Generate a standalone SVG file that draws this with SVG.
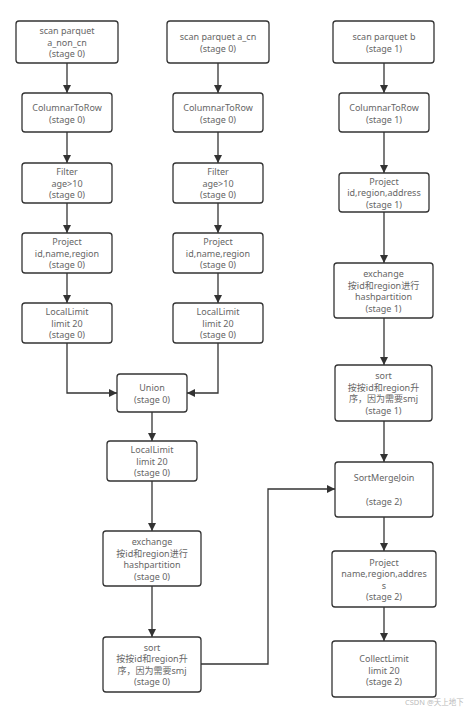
<svg xmlns="http://www.w3.org/2000/svg" width="474" height="710" viewBox="0 0 474 710">
<defs>
<style>
.box{fill:#fff;stroke:#333;stroke-width:1.3}
.t{font-family:"Noto Sans","Noto Sans CJK SC",sans-serif;font-size:9px;fill:#666;text-anchor:middle}
.c{fill:none;stroke:#333;stroke-width:1.3}
.wm{font-family:"Noto Sans","Noto Sans CJK SC",sans-serif;font-size:7.5px;fill:#bbb}
</style>
<marker id="ah" markerUnits="userSpaceOnUse" markerWidth="10" markerHeight="10" refX="8" refY="4" orient="auto">
<path d="M0,0 L8,4 L0,8 Z" fill="#333"/>
</marker>
</defs>
<rect width="474" height="710" fill="#fff"/>
<g id="connectors">
<path class="c" d="M67,63 V93" marker-end="url(#ah)"/>
<path class="c" d="M67,132 V163" marker-end="url(#ah)"/>
<path class="c" d="M67,203 V233" marker-end="url(#ah)"/>
<path class="c" d="M67,273 V303" marker-end="url(#ah)"/>
<path class="c" d="M67,343 V393 H117" marker-end="url(#ah)"/>
<path class="c" d="M218,63 V93" marker-end="url(#ah)"/>
<path class="c" d="M218,132 V163" marker-end="url(#ah)"/>
<path class="c" d="M218,203 V233" marker-end="url(#ah)"/>
<path class="c" d="M218,273 V303" marker-end="url(#ah)"/>
<path class="c" d="M218,343 V393 H187" marker-end="url(#ah)"/>
<path class="c" d="M152,412 V441" marker-end="url(#ah)"/>
<path class="c" d="M152,481 V531" marker-end="url(#ah)"/>
<path class="c" d="M152,586 V637" marker-end="url(#ah)"/>
<path class="c" d="M384,63 V93" marker-end="url(#ah)"/>
<path class="c" d="M384,132 V173" marker-end="url(#ah)"/>
<path class="c" d="M384,212 V263" marker-end="url(#ah)"/>
<path class="c" d="M384,318 V365" marker-end="url(#ah)"/>
<path class="c" d="M384,421 V462" marker-end="url(#ah)"/>
<path class="c" d="M384,517 V551" marker-end="url(#ah)"/>
<path class="c" d="M384,607 V641" marker-end="url(#ah)"/>
<path class="c" d="M201,664 H268 V489 H335" marker-end="url(#ah)"/>
</g>
<g id="scan_a_non_cn"><rect class="box" x="16" y="21" width="102" height="42" rx="3"/>
<text class="t"><tspan x="67" y="34">scan parquet</tspan><tspan x="67" y="45.5">a_non_cn</tspan><tspan x="67" y="57">(stage 0)</tspan></text></g>
<g id="scan_a_cn"><rect class="box" x="167" y="21" width="102" height="42" rx="3"/>
<text class="t"><tspan x="218" y="40">scan parquet a_cn</tspan><tspan x="218" y="52">(stage 0)</tspan></text></g>
<g id="scan_b"><rect class="box" x="333" y="21" width="101" height="42" rx="3"/>
<text class="t"><tspan x="384" y="40">scan parquet b</tspan><tspan x="384" y="52">(stage 1)</tspan></text></g>
<g id="c2r_1"><rect class="box" x="22" y="93" width="90" height="39" rx="3"/>
<text class="t"><tspan x="67" y="111">ColumnarToRow</tspan><tspan x="67" y="122.5">(stage 0)</tspan></text></g>
<g id="c2r_2"><rect class="box" x="173" y="93" width="90" height="39" rx="3"/>
<text class="t"><tspan x="218" y="111">ColumnarToRow</tspan><tspan x="218" y="122.5">(stage 0)</tspan></text></g>
<g id="c2r_3"><rect class="box" x="339" y="93" width="90" height="39" rx="3"/>
<text class="t"><tspan x="384" y="111">ColumnarToRow</tspan><tspan x="384" y="122.5">(stage 1)</tspan></text></g>
<g id="filter_1"><rect class="box" x="22" y="163" width="90" height="40" rx="3"/>
<text class="t"><tspan x="67" y="175">Filter</tspan><tspan x="67" y="186.5">age&gt;10</tspan><tspan x="67" y="198">(stage 0)</tspan></text></g>
<g id="filter_2"><rect class="box" x="173" y="163" width="90" height="40" rx="3"/>
<text class="t"><tspan x="218" y="175">Filter</tspan><tspan x="218" y="186.5">age&gt;10</tspan><tspan x="218" y="198">(stage 0)</tspan></text></g>
<g id="project_1"><rect class="box" x="22" y="233" width="90" height="40" rx="3"/>
<text class="t"><tspan x="67" y="245">Project</tspan><tspan x="67" y="256.5">id,name,region</tspan><tspan x="67" y="268">(stage 0)</tspan></text></g>
<g id="project_2"><rect class="box" x="173" y="233" width="90" height="40" rx="3"/>
<text class="t"><tspan x="218" y="245">Project</tspan><tspan x="218" y="256.5">id,name,region</tspan><tspan x="218" y="268">(stage 0)</tspan></text></g>
<g id="project_3"><rect class="box" x="339" y="173" width="90" height="39" rx="3"/>
<text class="t"><tspan x="384" y="184.5">Project</tspan><tspan x="384" y="196">id,region,address</tspan><tspan x="384" y="207.5">(stage 1)</tspan></text></g>
<g id="locallimit_1"><rect class="box" x="22" y="303" width="90" height="40" rx="3"/>
<text class="t"><tspan x="67" y="315">LocalLimit</tspan><tspan x="67" y="326.5">limit 20</tspan><tspan x="67" y="338">(stage 0)</tspan></text></g>
<g id="locallimit_2"><rect class="box" x="173" y="303" width="90" height="40" rx="3"/>
<text class="t"><tspan x="218" y="315">LocalLimit</tspan><tspan x="218" y="326.5">limit 20</tspan><tspan x="218" y="338">(stage 0)</tspan></text></g>
<g id="union"><rect class="box" x="117" y="374" width="70" height="38" rx="3"/>
<text class="t"><tspan x="152" y="390.5">Union</tspan><tspan x="152" y="402.5">(stage 0)</tspan></text></g>
<g id="locallimit_3"><rect class="box" x="107" y="441" width="90" height="40" rx="3"/>
<text class="t"><tspan x="152" y="453">LocalLimit</tspan><tspan x="152" y="464.5">limit 20</tspan><tspan x="152" y="476">(stage 0)</tspan></text></g>
<g id="exchange_1"><rect class="box" x="103" y="531" width="98" height="55" rx="3"/>
<text class="t"><tspan x="152" y="545">exchange</tspan><tspan x="152" y="556.5">按id和region进行</tspan><tspan x="152" y="568">hashpartition</tspan><tspan x="152" y="579.5">(stage 0)</tspan></text></g>
<g id="sort_1"><rect class="box" x="103" y="637" width="98" height="55" rx="3"/>
<text class="t"><tspan x="152" y="650.5">sort</tspan><tspan x="152" y="662">按按id和region升</tspan><tspan x="152" y="673.5">序，因为需要smj</tspan><tspan x="152" y="685">(stage 0)</tspan></text></g>
<g id="exchange_2"><rect class="box" x="334" y="263" width="99" height="55" rx="3"/>
<text class="t"><tspan x="383.5" y="277">exchange</tspan><tspan x="383.5" y="288.5">按id和region进行</tspan><tspan x="383.5" y="300">hashpartition</tspan><tspan x="383.5" y="311.5">(stage 1)</tspan></text></g>
<g id="sort_2"><rect class="box" x="335" y="365" width="97" height="56" rx="3"/>
<text class="t"><tspan x="383.5" y="379">sort</tspan><tspan x="383.5" y="390.5">按按id和region升</tspan><tspan x="383.5" y="402">序，因为需要smj</tspan><tspan x="383.5" y="413.5">(stage 1)</tspan></text></g>
<g id="smj"><rect class="box" x="335" y="462" width="98" height="55" rx="3"/>
<text class="t"><tspan x="384" y="481">SortMergeJoin</tspan><tspan x="384" y="505">(stage 2)</tspan></text></g>
<g id="project_4"><rect class="box" x="332" y="551" width="104" height="56" rx="3"/>
<text class="t"><tspan x="384" y="565.5">Project</tspan><tspan x="384" y="577">name,region,addres</tspan><tspan x="384" y="588.5">s</tspan><tspan x="384" y="600">(stage 2)</tspan></text></g>
<g id="collectlimit"><rect class="box" x="332" y="641" width="104" height="56" rx="3"/>
<text class="t"><tspan x="384" y="662">CollectLimit</tspan><tspan x="384" y="673.5">limit 20</tspan><tspan x="384" y="685">(stage 2)</tspan></text></g>
<text class="wm" x="405" y="705">CSDN @天上地下</text>
</svg>
